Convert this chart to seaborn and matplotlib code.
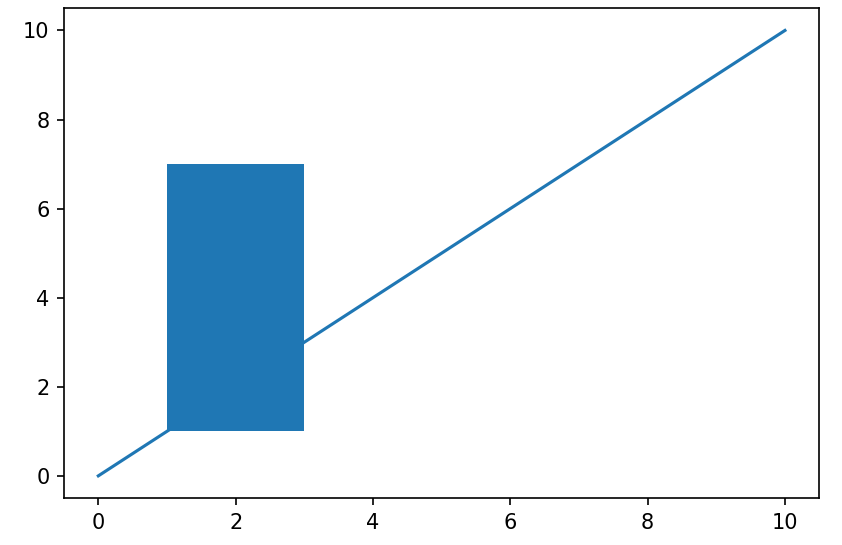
import matplotlib
matplotlib.use("Agg")
import matplotlib.pyplot as plt
import matplotlib.patches as patches
import seaborn as sns

# line data
line_x = [0, 10]
line_y = [0, 10]

# rectangle: corner, width, height
rect_xy = (1, 1)
rect_w = 2
rect_h = 6

fig, ax = plt.subplots(figsize=(842 / 150, 545 / 150), dpi=150)
fig.subplots_adjust(left=0.076, right=0.973, bottom=0.086, top=0.985)

sns.lineplot(x=line_x, y=line_y, ax=ax, color="#1f77b4")

ax.add_patch(
    patches.Rectangle(rect_xy, rect_w, rect_h, facecolor="#1f77b4", zorder=3)
)

ax.set_xticks([0, 2, 4, 6, 8, 10])
ax.set_yticks([0, 2, 4, 6, 8, 10])

plt.savefig("out.png", dpi=150)
